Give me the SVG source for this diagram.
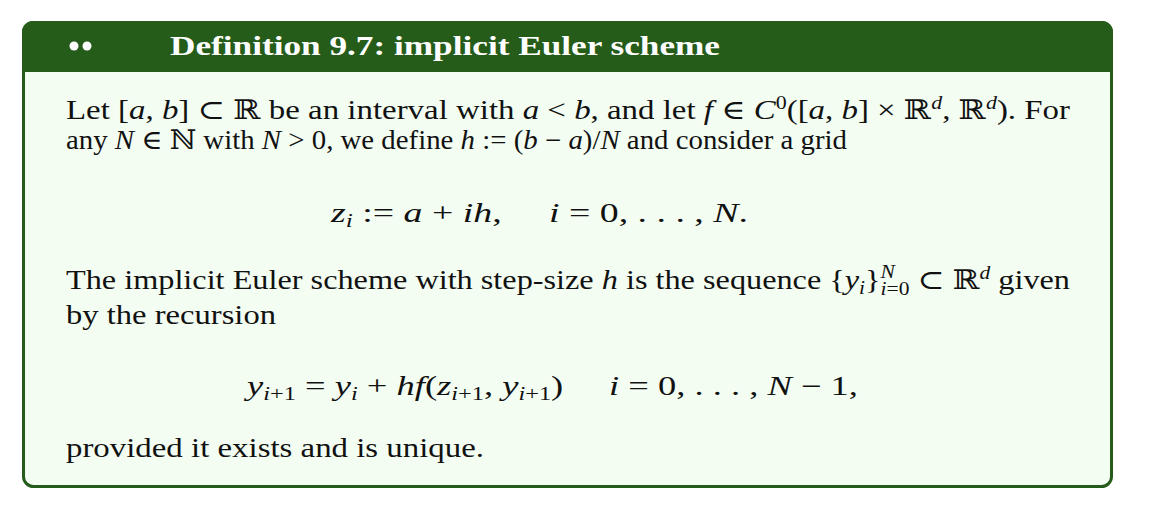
<svg xmlns="http://www.w3.org/2000/svg" width="1152" height="506" viewBox="0 0 1152 506">
<style>
text{font-family:"Liberation Serif","DejaVu Serif",serif;font-size:27px;fill:#111}
.i{font-style:italic}
.s{font-size:18px}
.h{font-weight:bold;fill:#fff;font-size:27px}
</style>
<g id="box">
<rect x="23.5" y="22.5" width="1088" height="464" rx="10" fill="#f3fdf2" stroke="#265c1a" stroke-width="3"/>
<path d="M22,72 V32 a11,11 0 0 1 11,-11 H1102 a11,11 0 0 1 11,11 V72 Z" fill="#265c1a"/>
<circle cx="74" cy="46" r="4.5" fill="#fff"/><circle cx="87" cy="46" r="4.5" fill="#fff"/>
<text class="h" x="170" y="55" textLength="550" lengthAdjust="spacingAndGlyphs">Definition 9.7: implicit Euler scheme</text>
</g>
<g id="body">
<text x="66" y="119" textLength="1004" lengthAdjust="spacingAndGlyphs">Let [<tspan class="i">a</tspan>, <tspan class="i">b</tspan>] ⊂ ℝ be an interval with <tspan class="i">a</tspan> &lt; <tspan class="i">b</tspan>, and let <tspan class="i">f</tspan> ∈ <tspan class="i">C</tspan><tspan class="s" dy="-10">0</tspan><tspan dy="10">([</tspan><tspan class="i">a</tspan>, <tspan class="i">b</tspan>] × ℝ<tspan class="s i" dy="-10">d</tspan><tspan dy="10">, ℝ</tspan><tspan class="s i" dy="-10">d</tspan><tspan dy="10">). For</tspan></text>
<text x="66" y="149" textLength="781" lengthAdjust="spacingAndGlyphs">any <tspan class="i">N</tspan> ∈ ℕ with <tspan class="i">N</tspan> &gt; 0, we define <tspan class="i">h</tspan> := (<tspan class="i">b</tspan> − <tspan class="i">a</tspan>)/<tspan class="i">N</tspan> and consider a grid</text>
<text x="331" y="222" xml:space="preserve" textLength="417" lengthAdjust="spacingAndGlyphs"><tspan class="i">z</tspan><tspan class="s i" dy="5">i</tspan><tspan dy="-5"> := </tspan><tspan class="i">a</tspan> + <tspan class="i">ih</tspan>,     <tspan class="i">i</tspan> = 0, . . . , <tspan class="i">N</tspan>.</text>
<text x="66" y="289" textLength="1004" lengthAdjust="spacingAndGlyphs">The implicit Euler scheme with step-size <tspan class="i">h</tspan> is the sequence {<tspan class="i">y</tspan><tspan class="s i" dy="5">i</tspan><tspan dy="-5">}</tspan><tspan class="s i" dy="-11">N</tspan><tspan class="s i" dx="-12" dy="17">i</tspan><tspan class="s">=0</tspan><tspan dy="-6"> ⊂ ℝ</tspan><tspan class="s i" dy="-10">d</tspan><tspan dy="10"> given</tspan></text>
<text x="66" y="324" textLength="210" lengthAdjust="spacingAndGlyphs">by the recursion</text>
<text x="247" y="395" xml:space="preserve" textLength="611" lengthAdjust="spacingAndGlyphs"><tspan class="i">y</tspan><tspan class="s" dy="5"><tspan class="i">i</tspan>+1</tspan><tspan dy="-5"> = </tspan><tspan class="i">y</tspan><tspan class="s i" dy="5">i</tspan><tspan dy="-5"> + </tspan><tspan class="i">hf</tspan>(<tspan class="i">z</tspan><tspan class="s" dy="5"><tspan class="i">i</tspan>+1</tspan><tspan dy="-5">, </tspan><tspan class="i">y</tspan><tspan class="s" dy="5"><tspan class="i">i</tspan>+1</tspan><tspan dy="-5">)     </tspan><tspan class="i">i</tspan> = 0, . . . , <tspan class="i">N</tspan> − 1,</text>
<text x="66" y="457" textLength="418" lengthAdjust="spacingAndGlyphs">provided it exists and is unique.</text>
</g>
</svg>
